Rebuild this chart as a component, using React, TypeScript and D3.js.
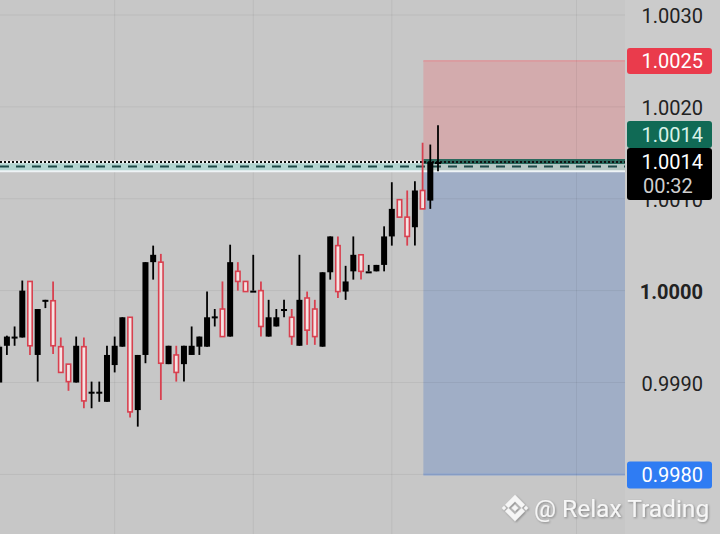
import * as d3 from "d3";

// candle OHLC (oldest first)
const opens = [0.99900,0.99940,0.99950,0.99949,1.00010,0.99930,0.99990,0.99989,0.99939,0.99920,
  0.99900,0.99939,0.99890,0.99890,0.99879,0.99919,0.99939,0.99971,0.99870,0.99930,
  1.00031,1.00031,0.99920,0.99930,0.99920,0.99930,0.99939,0.99939,0.99972,0.99980,
  0.99950,1.00021,1.00010,1.00000,1.00000,0.99950,0.99961,0.99980,0.99971,0.99940,
  0.99992,0.99980,0.99939,1.00020,1.00049,0.99999,1.00021,1.00039,1.00021,1.00021,
  1.00028,1.00059,1.00099,1.00080,1.00069,1.00109,1.00098,1.00138];
const highs = [0.99941,0.99951,0.99961,1.00011,1.00010,0.99980,0.99990,1.00010,0.99949,0.99920,
  0.99950,0.99949,0.99901,0.99901,0.99940,0.99950,0.99971,0.99971,0.99930,1.00031,
  1.00049,1.00040,0.99940,0.99940,0.99940,0.99961,0.99950,0.99999,0.99980,1.00010,
  1.00050,1.00031,1.00010,1.00039,1.00010,0.99990,0.99980,0.99990,0.99980,1.00039,
  0.99999,0.99990,1.00020,1.00059,1.00059,1.00027,1.00059,1.00039,1.00028,1.00028,
  1.00070,1.00118,1.00099,1.00109,1.00119,1.00161,1.00159,1.00180];
const lows = [0.99900,0.99930,0.99940,0.99949,0.99930,0.99901,0.99981,0.99931,0.99911,0.99891,
  0.99900,0.99872,0.99872,0.99879,0.99879,0.99911,0.99939,0.99862,0.99852,0.99921,
  1.00012,0.99881,0.99920,0.99901,0.99901,0.99930,0.99930,0.99939,0.99961,0.99950,
  0.99950,1.00000,0.99999,1.00000,0.99950,0.99950,0.99961,0.99971,0.99941,0.99940,
  0.99941,0.99941,0.99939,1.00012,0.99992,0.99990,1.00012,1.00012,1.00021,1.00021,
  1.00021,1.00049,1.00080,1.00049,1.00049,1.00089,1.00089,1.00130];
const closes = [0.99939,0.99950,0.99950,1.00000,0.99940,0.99980,0.99990,0.99940,0.99911,0.99901,
  0.99940,0.99880,0.99890,0.99890,0.99930,0.99940,0.99971,0.99868,0.99930,1.00031,
  1.00039,0.99921,0.99940,0.99911,0.99940,0.99940,0.99950,0.99971,0.99972,0.99950,
  1.00031,1.00010,0.99999,1.00000,0.99961,0.99971,0.99971,0.99980,0.99950,0.99990,
  0.99957,0.99950,1.00020,1.00059,0.99999,1.00010,1.00039,1.00021,1.00021,1.00028,
  1.00059,1.00089,1.00080,1.00059,1.00109,1.00089,1.00140,1.00140];

const priceTicks = [1.0030, 1.0020, 1.0010, 1.0000, 0.9990, 0.9980];
const timeGridIdx = [15, 33, 51, 75]; // vertical grid, in candle units

// position tool (short)
const stopPrice = 1.0025;
const targetPrice = 0.9980;
const entryPrice = 1.0013;
const zoneStartIdx = 55.1;
const lastPrice = 1.0014;
const markPrice = 1.00135;
const countdown = "00:32";
const watermark = "@ Relax Trading";

const W = 720, H = 534;
const plotRight = 625;

const x = d3.scaleLinear().domain([0, closes.length - 1]).range([-0.8, 438]);
const y = d3.scaleLinear().domain([0.998, 1.003]).range([474.4, 15]);

const fmt = d3.format(".4f");
const FONT = "Roboto, 'Noto Sans', sans-serif";

const candles = closes.map((c, i) => ({ i, o: opens[i], h: highs[i], l: lows[i], c }));

export default function App() {
  const bw = 6;
  const zoneX = x(zoneStartIdx);
  return (
    <svg width={W} height={H} style={{ position: "absolute", left: 0, top: 0 }} fontFamily={FONT}>
      <defs>
        <clipPath id="plotClip"><rect x={0} y={0} width={plotRight} height={H} /></clipPath>
        <clipPath id="belowBox"><rect x={627} y={200} width={90} height={20} /></clipPath>
        <filter id="wmShadow" x="-10%" y="-30%" width="120%" height="160%">
          <feDropShadow dx="1" dy="1" stdDeviation="1" floodColor="#000" floodOpacity="0.35" />
        </filter>
      </defs>
      <rect x={0} y={0} width={W} height={H} fill="#cbcbcb" />
      <rect x={0} y={0} width={plotRight} height={H} fill="#c7c7c7" />

      {/* position zones */}
      <rect x={zoneX} y={y(stopPrice)} width={plotRight - zoneX} height={y(entryPrice) - y(stopPrice)} fill="#d3abad" />
      <line x1={zoneX} x2={plotRight} y1={y(stopPrice)} y2={y(stopPrice)} stroke="#d99da1" strokeWidth={2} />
      <rect x={zoneX} y={y(entryPrice)} width={plotRight - zoneX} height={y(targetPrice) - y(entryPrice)} fill="#a0aec6" />
      <line x1={zoneX} x2={plotRight} y1={y(targetPrice)} y2={y(targetPrice)} stroke="#8ea5cf" strokeWidth={2} />

      {/* grid */}
      <g stroke="rgba(0,0,0,0.06)" strokeWidth={1}>
        {priceTicks.map(p => <line key={p} x1={0} x2={plotRight} y1={y(p)} y2={y(p)} />)}
        {timeGridIdx.map(t => <line key={t} x1={x(t)} x2={x(t)} y1={0} y2={H} />)}
      </g>

      {/* price lines */}
      <rect x={0} y={y(lastPrice) + 1} width={plotRight} height={y(entryPrice) - y(lastPrice) - 1} fill="rgba(160,222,215,0.55)" />
      <rect x={zoneX} y={y(lastPrice) - 3} width={plotRight - zoneX} height={5} fill="#2c6a5e" />
      <line x1={0} x2={zoneX} y1={y(lastPrice)} y2={y(lastPrice)} stroke="#f4f4f4" strokeWidth={2.5} />
      <line x1={0} x2={plotRight} y1={y(lastPrice)} y2={y(lastPrice)} stroke="#111" strokeWidth={2} strokeDasharray="2,2" />
      <line x1={0} x2={plotRight} y1={y(markPrice)} y2={y(markPrice)} stroke="#1d4a48" strokeWidth={2} strokeDasharray="9,7" />
      <line x1={0} x2={plotRight} y1={y(entryPrice)} y2={y(entryPrice)} stroke="#eef3f6" strokeWidth={2} />

      {/* candles */}
      <g clipPath="url(#plotClip)">
        {candles.map(d => {
          const cx = x(d.i);
          const up = d.c >= d.o;
          const top = y(Math.max(d.o, d.c));
          const bot = y(Math.min(d.o, d.c));
          const bh = Math.max(bot - top, 2);
          const col = up ? "#000" : "#d8404f";
          return (
            <g key={d.i}>
              <line x1={cx} x2={cx} y1={y(d.h)} y2={y(d.l)} stroke={col} strokeWidth={1.8} />
              {up ? (
                <rect x={cx - bw / 2} y={top} width={bw} height={bh} fill="#000" />
              ) : (
                <rect x={cx - bw / 2 + 0.8} y={top} width={bw - 1.6} height={bh} fill="#f5e4e4" stroke={col} strokeWidth={1.6} />
              )}
            </g>
          );
        })}
      </g>

      {/* right axis; 1.0010 sits behind the last-price box, only its lower edge shows */}
      <g fontSize={20} fill="#222" textAnchor="end">
        {priceTicks.map(p => (
          <text key={p} x={703} y={y(p) + 1} dy="0.35em" fontWeight={p === 1.0 ? 700 : 400}
            clipPath={p === 1.001 ? "url(#belowBox)" : undefined}>{fmt(p)}</text>
        ))}
      </g>

      {/* stop label */}
      <rect x={627} y={y(stopPrice) - 13} width={85} height={26} rx={3} fill="#ea3b4c" />
      <text x={703} y={y(stopPrice)} dy="0.35em" fontSize={20} fill="#fff" textAnchor="end">{fmt(stopPrice)}</text>

      {/* bid label (pushed up) */}
      <rect x={627} y={121} width={85} height={27} rx={3} fill="#106a55" />
      <text x={703} y={134.5} dy="0.35em" fontSize={20} fill="#d8f2e8" textAnchor="end">{fmt(lastPrice)}</text>

      {/* last price + countdown */}
      <rect x={627} y={148} width={85} height={52} rx={3} fill="#000" />
      <text x={703} y={y(lastPrice)} dy="0.35em" fontSize={20} fill="#fff" textAnchor="end">{fmt(lastPrice)}</text>
      <text x={643} y={186} dy="0.35em" fontSize={20} fill="#cfcfcf">{countdown}</text>

      {/* target label */}
      <rect x={627} y={y(targetPrice) - 13} width={85} height={27} rx={3} fill="#2f7cf3" />
      <text x={703} y={y(targetPrice) + 0.5} dy="0.35em" fontSize={20} fill="#fff" textAnchor="end">{fmt(targetPrice)}</text>

      {/* watermark */}
      <g filter="url(#wmShadow)" fill="#f6f6f6">
        <g transform="translate(515,508) scale(1.1)">
          <path d="M0,-12 L9,-3 L6,0 L0,-6 L-6,0 L-9,-3 Z" />
          <path d="M0,12 L9,3 L6,0 L0,6 L-6,0 L-9,3 Z" />
          <path d="M0,-3 L3,0 L0,3 L-3,0 Z" />
          <path d="M-12,0 L-10,-2 L-8,0 L-10,2 Z" />
          <path d="M12,0 L10,-2 L8,0 L10,2 Z" />
        </g>
        <text x={534} y={517} fontSize={24.5}>{watermark}</text>
      </g>
    </svg>
  );
}
